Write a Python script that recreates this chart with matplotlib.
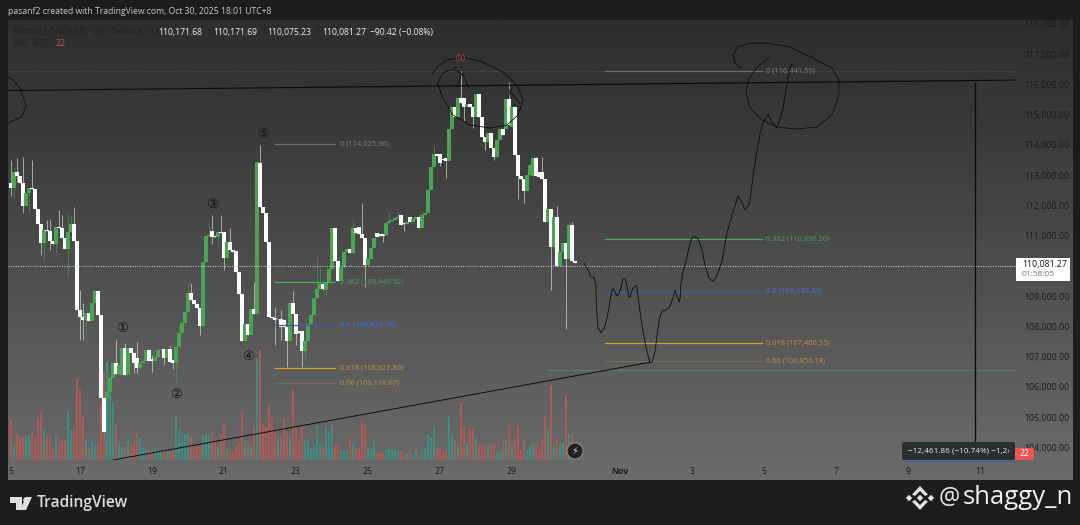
import numpy as np
import matplotlib
matplotlib.use("Agg")
import matplotlib.pyplot as plt
from matplotlib.patches import Rectangle, Circle, Polygon, FancyBboxPatch

plt.rcParams['font.family'] = ['Open Sans', 'DejaVu Sans']

# ---------- data ----------
closes = [
112570,113100,112970,112740,111980,112410,112570,112540,111880,111380,
110750,111180,111150,110820,110720,111280,111250,110920,110560,111120,
111380,110820,108540,108310,108210,108440,108180,108770,109170,108370,
105630,104510,105830,106290,106790,106420,106720,107280,106390,107280,
107120,106790,106620,106790,106850,107220,106850,106850,106980,107220,
107250,106950,107250,106820,106790,107320,107780,108110,108470,109100,
108870,108740,108600,108010,110120,110980,111020,110950,110950,111120,
111080,110260,110790,110520,110460,109800,109070,107510,108080,107710,
108570,108410,113430,111940,111750,110790,108310,108270,108210,108240,
107980,107980,107510,108770,108410,107750,107780,107180,107510,108080,
108370,108940,109230,109400,109230,109460,109890,111250,110160,109500,
109960,110460,110560,110420,111250,111080,111050,110920,110030,110220,
110590,110920,110950,110980,110980,111420,111480,111510,111580,111610,
111350,111380,111450,111450,111550,111610,111250,111680,111750,112510,
113270,113700,113630,113400,113500,113460,114520,115250,114920,115550,
115380,115250,115350,115250,114920,115680,114920,114260,114090,114390,
113890,113600,114160,114520,114320,115510,114650,115250,113660,112970,
112870,112470,113000,113330,113560,112970,112940,112870,111450,111880,
110620,111610,109990,110460,110750,110220,111350,110160,110081]
open_overrides = {0:112740,32:105630,37:106390,42:106950,47:106920,54:106890,67:111150,68:110980,
71:111120,75:110490,83:113400,91:108210,96:107840,97:107840,105:109200,116:111280,122:111080,
123:111050,124:111050,125:111020,130:111680,131:111420,133:111610,143:113700,144:113530,
145:113560,151:115550,165:114520,167:114590,174:112970,176:113100,177:113100,188:110170}
wick_high = {0:113500,1:113230,2:113560,4:113600,7:113500,12:111510,13:111550,16:111840,17:111680,
19:111750,20:111680,21:111940,23:109200,24:108770,28:109200,35:107550,38:107450,42:107480,45:107280,
47:107050,53:107350,56:108040,59:109460,60:109430,66:111450,67:111680,70:111680,73:111250,81:109460,
83:113990,88:108640,90:108540,94:109170,102:110290,103:109930,114:111510,117:112080,126:111780,
129:111780,141:113990,150:116440,166:116070,175:113600,177:113600,182:111980,186:111450,187:111450}
wick_low = {0:112310,1:112240,2:112770,4:111750,6:111750,10:110360,11:110190,13:110520,15:110360,19:109660,
23:107550,24:107550,25:107450,41:106450,42:106450,47:106490,51:106720,54:106590,55:106090,63:107710,
67:110720,69:110650,71:109860,88:107380,90:107550,92:106650,95:107380,97:106650,98:106880,104:109200,
105:109030,118:109300,124:110790,131:111150,143:113300,145:112900,151:114790,154:114550,158:113830,
161:113500,169:112210,171:112080,180:109200,185:107910}
volumes = [
41,16,27,23,23,25,26,28,23,41,48,31,24,22,12,23,18,20,21,48,
30,30,82,70,43,20,12,18,15,18,57,88,99,83,57,36,17,13,13,22,
15,18,27,23,13,11,10,9,12,10,8,11,10,8,9,44,30,27,26,27,
23,13,13,14,25,25,26,29,18,14,26,38,12,10,8,15,18,47,20,18,
15,34,102,110,35,33,55,42,28,25,24,42,27,25,70,33,20,34,20,20,
12,15,35,17,14,32,28,35,15,15,10,10,10,20,17,12,11,39,37,12,
10,20,7,7,7,10,11,11,10,8,9,6,7,10,6,10,6,6,12,25,
22,32,13,12,8,10,44,26,20,17,58,33,17,30,32,22,15,16,15,15,
16,16,8,8,20,20,35,17,22,33,10,20,10,14,17,16,10,20,43,31,
75,16,20,16,17,64,26,26,4]

fib_left_levels = [0, 0.382, 0.5, 0.618, 0.66]
fib_left_prices = [114025.96, 109449.32, 108029.76, 106621.86, 106118.67]
fib_right_levels = [0, 0.382, 0.5, 0.618, 0.66]
fib_right_prices = [116441.59, 110890.20, 109136.37, 107460.55, 106850.18]

forecast_days = [31.0,31.11,31.19,31.28,31.33,31.35,31.39,31.47,31.56,31.64,31.69,31.75,31.78,31.81,31.86,31.92,31.97,
32.03,32.08,32.14,32.19,32.25,32.28,32.36,32.44,32.47,32.53,32.61,32.72,32.81,32.83,32.89,32.97,33.03,33.11,33.17,
33.28,33.39,33.47,33.53,33.58,33.64,33.67,33.69,33.75,33.83,33.92,34.0,34.08,34.17,34.28,34.36,34.47,34.58,34.69,
34.83,34.97,35.14,35.28,35.36,35.47,35.56,35.61,35.75,35.89,35.97,36.11,36.22,36.36,36.5,36.61,36.69,36.78]
forecast_prices = [110090,109860,109630,109610,109365,108540,107940,107795,107940,108275,108605,109035,109200,109235,109135,109000,109070,
109300,109565,109580,109365,108970,108970,109265,109350,109265,108705,108040,107315,106885,106800,106820,107150,107710,108305,108505,
108540,108670,108935,109200,109000,108800,108935,109365,109795,110125,110620,110920,110970,110885,110520,110025,109595,109480,109660,
110125,111085,111780,112305,112175,111845,111975,112175,113400,114390,114720,115020,114755,114555,115050,115810,116375,116705]
circle_r_days = [36.17,35.81,35.56,35.5,35.61,35.94,36.36,36.92,37.47,37.89,38.08,38.08,37.89,37.36,36.72,36.08,35.61,35.28,35.14,35.19,35.36]
circle_r_prices = [116900,116570,116140,115710,115215,114820,114590,114520,114590,114985,115645,116140,116540,116870,117235,117365,117365,117235,116970,116705,116540]
circle_t_days = [26.78,26.92,27.19,27.64,28.19,28.75,29.14,29.31,29.17,28.86,28.39,27.83,27.36,27.06,26.94,27.08,27.47]
circle_t_prices = [116340,116570,116805,116900,116735,116405,115975,115480,114985,114655,114555,114655,114985,115580,116045,116375,116570]
arc_l_days = [15.0,15.17,15.33,15.5,15.39,15.19,15.0]
arc_l_prices = [116240,116110,115880,115315,114920,114820,114720]
x_marks = [([27.42,27.64,27.83],[116475,116305,115845]),([27.47,27.61],[115910,116375]),
           ([28.89,29.22],[115845,115380]),([28.89,29.0],[115580,115880])]
resistance_days, resistance_prices = [15.0,42.97],[115795,116140]
trend_days, trend_prices = [17.92,32.83],[103580,106810]
vert_day, vert_prices = 41.86,[116040,104210]
support_days, support_price = [29.97,43.03],106555
last_price_line = 109990

xtick_days = [15,17,19,21,23,25,27,29,32,34,36,38,40,42]
xtick_labels = ['5','17','19','21','23','25','27','29','Nov','3','5','7','9','11']
ytick_prices = [104000,105000,106000,107000,108000,109000,111000,112000,113000,114000,115000,116000,117000,118000]

# ---------- figure ----------
W,H = 1080,525
fig = plt.figure(figsize=(W/100,H/100),dpi=100,facecolor='#1c1c1c')
def rect(x0,y0,x1,y1):
    return [x0/W,1-y1/H,(x1-x0)/W,(y1-y0)/H]

bg = fig.add_axes(rect(8,20,1073,480)); bg.axis('off')
bg.imshow(np.linspace(0,1,256).reshape(-1,1),aspect='auto',cmap=matplotlib.colors.LinearSegmentedColormap.from_list(
    'g',['#2e2e2e','#3a3a3a','#4b4b4b','#5c5c5c','#6b6b6b']),vmin=0,vmax=1)

PL,PR,PT,PB = 8,1017,20,460
d_of = lambda x: 17+(x-80)/36
p_of = lambda y: 118787-33.06*y

av = fig.add_axes(rect(PL,PT,PR,PB)); av.patch.set_alpha(0); av.axis('off')
ax = fig.add_axes(rect(PL,PT,PR,PB)); ax.patch.set_alpha(0)
ax.set_xlim(d_of(PL),d_of(PR)); ax.set_ylim(p_of(PB),p_of(PT))
av.set_xlim(d_of(PL),d_of(PR)); av.set_ylim(0,PB-PT)

c = np.array(closes,float)
o = np.r_[c[0],c[:-1]]
for i,v in open_overrides.items(): o[i]=v
days = 15+(np.arange(len(c))+1)/12
up = c>=o
av.bar(days,volumes,width=0.08,color=['#3f8c82' if u else '#ad5a55' for u in up],linewidth=0)

# candles
for i,(d,op,cl) in enumerate(zip(days,o,c)):
    hi = wick_high.get(i,max(op,cl)); lo = wick_low.get(i,min(op,cl))
    col = '#4aa552' if up[i] else '#ffffff'
    ax.vlines(d,lo,hi,color='#4a8a52' if up[i] else '#c4c4c4',lw=0.7,alpha=0.8,zorder=2)
    h = max(abs(cl-op),35)
    ax.bar(d,h,bottom=min(op,cl),width=0.088,color=col,linewidth=0,zorder=3)

# price line & faint high line
ax.axhline(last_price_line,color='#d8d8d8',lw=0.7,ls=(0,(1,1.5)),zorder=4)
ax.axhline(fib_right_prices[0],color='#5a5a5a',lw=0.6,ls=(0,(1,1.5)),zorder=1)
ax.plot(support_days,[support_price]*2,color='#5d7a68',lw=0.8,zorder=4)

# fibs
line_cols = ['#6b6b6b','#4fae55','#3d5c9f','#e09a2b','#77695c']
text_cols = ['#808080','#4f9d58','#4266b8','#c98c3e','#c08a4a']
text_wts = ['normal','normal','bold','normal','normal']
for lv,pr,lc,tc,tw in zip(fib_left_levels,fib_left_prices,line_cols,text_cols,text_wts):
    ax.plot([d_of(275),d_of(335)],[pr,pr],color=lc,lw=0.9,zorder=4)
    ax.text(d_of(340),pr,f"{lv:g} ({pr:,.2f})",color=tc,fontsize=5.4,fontweight=tw,va='center',ha='left',zorder=5)
for lv,pr,lc,tc,tw in zip(fib_right_levels,fib_right_prices,line_cols,text_cols,text_wts):
    ax.plot([d_of(605),d_of(762)],[pr,pr],color=lc,lw=0.9,zorder=4)
    ax.text(d_of(766),pr,f"{lv:g} ({pr:,.2f})",color=tc,fontsize=5.4,fontweight=tw,va='center',ha='left',zorder=5)

# hand drawings
k = dict(color='#0c0c0c',lw=0.6,zorder=6,solid_joinstyle='round',solid_capstyle='round')
ax.plot(forecast_days,forecast_prices,**k)
ax.plot(circle_r_days,circle_r_prices,**k)
ax.plot(circle_t_days,circle_t_prices,**k)
ax.plot(arc_l_days,arc_l_prices,**k)
for xs,ys in x_marks: ax.plot(xs,ys,**k)
ax.plot(resistance_days,resistance_prices,color='#0c0c0c',lw=0.85,zorder=6)
ax.plot(trend_days,trend_prices,color='#0c0c0c',lw=0.7,zorder=6)
ax.plot([vert_day]*2,vert_prices,color='#0c0c0c',lw=0.95,zorder=6)

# axes
for s in ax.spines.values(): s.set_visible(False)
ax.yaxis.tick_right()
ax.set_yticks(ytick_prices)
ax.set_yticklabels([f"{v:,.2f}" for v in ytick_prices],color='#1a1a1a',fontsize=6.3)
ax.tick_params(axis='y',length=0,pad=5)
ax.set_xticks(xtick_days)
ax.set_xticklabels(xtick_labels,color='#1a1a1a',fontsize=6.3)
ax.tick_params(axis='x',length=0,pad=5)
ax.get_xticklabels()[8].set_fontweight('bold')
ax.get_xticklabels()[0].set_ha('left')

# overlay (page furniture)
ov = fig.add_axes([0,0,1,1]); ov.axis('off'); ov.patch.set_alpha(0)
ov.set_xlim(0,W); ov.set_ylim(H,0)
T = lambda x,y,s,**kw: ov.text(x,y,s,va=kw.pop('va','center'),ha=kw.pop('ha','left'),**kw)
T(8,12,"pasanf2 created with TradingView.com, Oct 30, 2025 18:01 UTC+8",color='#c9c9c9',fontsize=6.2)
T(14,32,"Bitcoin / TetherUS · 2h · Binance",color='#1f1f1f',fontsize=6.2)
for x,s in [(152,'O'),(207,'H'),(262,'L'),(316,'C')]:
    T(x,32,s,color='#1f1f1f',fontsize=6.2)
for x,s in [(158,'110,171.68'),(213,'110,171.69'),(267,'110,075.23'),(322,'110,081.27'),(370,'−90.42 (−0.08%)')]:
    T(x,32,s,color='#efefef',fontsize=6.2)
T(14,44,"Vol · BTC",color='#1f1f1f',fontsize=6.2)
T(56,44,"22",color='#c8504c',fontsize=6.2)

for x,y,s in [(122,329,'①'),(176,394,'②'),(212,204,'③'),(248,356,'④'),(263,134,'⑤')]:
    T(x,y,s,ha='center',color='#111111',fontsize=9.5,family='DejaVu Sans')
T(461,58,"(9)",ha='center',color='#a8403f',fontsize=6.2)

# bolt
ov.add_patch(Circle((575,451),8,fc='#202020',ec='#8a8a8a',lw=0.8))
T(575,451,"⚡",ha='center',color='#d8d8d8',fontsize=7,family='DejaVu Sans')

# price tag
ov.add_patch(Rectangle((1016,258),54,23,fc='white',ec='none'))
T(1022,264.5,"110,081.27",color='#111111',fontsize=6.3)
T(1022,274,"01:58:05",color='#777777',fontsize=6.0)

# measure box
ov.add_patch(FancyBboxPatch((902,442),113,18,boxstyle="round,pad=0,rounding_size=2",fc='#2b2e2f',ec='none'))
ov.plot([904,1015],[460.5,460.5],color='#3a5fb0',lw=0.8)
T(908,451,"−12,461.86 (−10.74%) −1,2‹",color='#e8e8e8',fontsize=5.9)
ov.add_patch(Rectangle((1015,448),19,12,fc='#ef5350',ec='none'))
T(1024.5,454,"22",ha='center',color='white',fontsize=6.3)

# TradingView logo
ov.add_patch(Polygon([(10,497),(22,497),(22,510),(16,510),(16,503),(10,503)],fc='#e0e0e0',ec='none'))
ov.add_patch(Circle((26,500),2.8,fc='#e0e0e0',ec='none'))
ov.add_patch(Polygon([(32,497),(26,510),(20,510),(26,497)],fc='#e0e0e0',ec='none'))
T(37,503,"TradingView",color='#dcdcdc',fontsize=11.2,fontweight='semibold',family='Open Sans')

# Binance-like mark
cx,cy = 920,498
def dia(x,y,r,**kw):
    ov.add_patch(Polygon([(x-r,y),(x,y-r),(x+r,y),(x,y+r)],fc='#e2e2e2',ec='none',**kw))
dia(cx-11,cy,3.2); dia(cx+11,cy,3.2); dia(cx,cy,3.2)
ov.add_patch(Polygon([(cx-8,cy-3.5),(cx,cy-12),(cx+8,cy-3.5),(cx+5,cy-2),(cx,cy-7),(cx-5,cy-2)],fc='#e2e2e2',ec='none'))
ov.add_patch(Polygon([(cx-8,cy+3.5),(cx,cy+12),(cx+8,cy+3.5),(cx+5,cy+2),(cx,cy+7),(cx-5,cy+2)],fc='#e2e2e2',ec='none'))
T(939,498,"@",color='#e8e8e8',fontsize=17,family='Open Sans')
T(963,498,"shaggy_n",color='#f2f2f2',fontsize=18.5,family='Open Sans')

fig.savefig('out.png',dpi=100,facecolor=fig.get_facecolor())
